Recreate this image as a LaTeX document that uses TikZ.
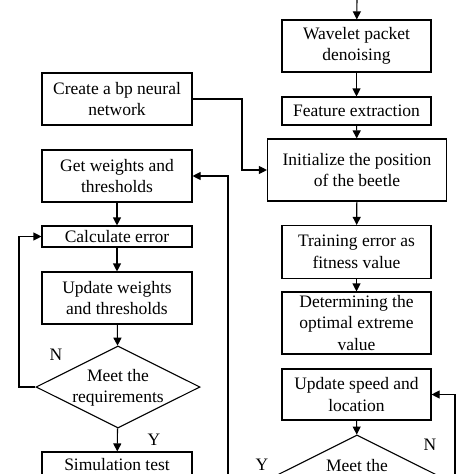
\documentclass[tikz,border=0pt]{standalone}
\usepackage{fontspec}
\setmainfont{Liberation Serif}
\usetikzlibrary{arrows.meta,shapes.geometric}
\begin{document}
\begin{tikzpicture}[x=1pt,y=-1pt,
  box/.style={draw,line width=1.1pt,inner sep=0pt,align=center,font=\fontsize{17.5}{21.5}\selectfont},
  decision/.style={draw,line width=1.1pt,diamond,inner sep=0pt,minimum width=164pt,minimum height=82pt},
  dtext/.style={align=center,inner sep=0pt,font=\fontsize{17.5}{21.5}\selectfont},
  lbl/.style={inner sep=0pt,font=\fontsize{17.5}{21.5}\selectfont},
  conn/.style={line width=1.1pt,-{Triangle[length=8pt,width=8pt]}},
  plain/.style={line width=1.1pt}]
\clip (0,0) rectangle (474,474);
\fill[white] (0,0) rectangle (474,474);
% left column
\node[box,minimum width=150pt,minimum height=52pt] (create) at (117,99) {Create a bp neural\\network};
\node[box,minimum width=150pt,minimum height=52pt] (getw) at (117,176) {Get weights and\\thresholds};
\node[box,minimum width=150pt,minimum height=21pt] (calc) at (117,236.5) {Calculate error};
\node[box,minimum width=150pt,minimum height=52pt] (updw) at (117,298) {Update weights\\and thresholds};
\node[decision] (d1) at (118,387) {};
\node[dtext] (d1t) at (118,388) {Meet the\\requirements};
\node[box,minimum width=150pt,minimum height=38pt] (sim) at (117,471) {};
\node[dtext] (simt) at (117,465) {Simulation test};
% right column
\coordinate (top) at (357,-2);
\node[box,minimum width=149pt,minimum height=52pt] (wav) at (356.5,46) {Wavelet packet\\denoising};
\node[box,minimum width=149pt,minimum height=28pt] (feat) at (356.5,111) {Feature extraction};
\node[box,minimum width=179pt,minimum height=62pt] (init) at (357,170) {Initialize the position\\of the beetle};
\node[box,minimum width=149pt,minimum height=53pt] (train) at (356.5,252) {Training error as\\fitness value};
\node[box,minimum width=149pt,minimum height=62pt] (det) at (356.5,323) {Determining the\\optimal extreme\\value};
\node[box,minimum width=149pt,minimum height=51pt] (upds) at (356.5,394.5) {Update speed and\\location};
\node[decision] (d2) at (357,476) {};
\node[dtext] (d2t) at (357,465.5) {Meet the};
% labels
\node[lbl] (nl) at (56,355) {N};
\node[lbl] (yl) at (154,440) {Y};
\node[lbl] (nr) at (430,445) {N};
\node[lbl] (yr) at (262,465) {Y};
% connectors
\draw[conn] (top) -- (wav);
\draw[conn] (wav) -- (feat);
\draw[conn] (feat) -- (init);
\draw[conn] (init) -- (train);
\draw[conn] (train) -- (det);
\draw[conn] (upds) -- (d2);
\draw[conn] (d2.east) -| (455,394.5) -- (upds.east);
\draw[conn] (d2.west) -| (228,176) -- (getw.east);
\draw[conn] (create.east) -| (242,170) -- (init.west);
\draw[conn] (getw) -- (calc);
\draw[conn] (calc) -- (updw);
\draw[conn] (updw) -- (d1);
\draw[conn] (d1.west) -| (19,236.5) -- (calc.west);
\draw[conn] (d1) -- (sim);
\end{tikzpicture}
\end{document}
